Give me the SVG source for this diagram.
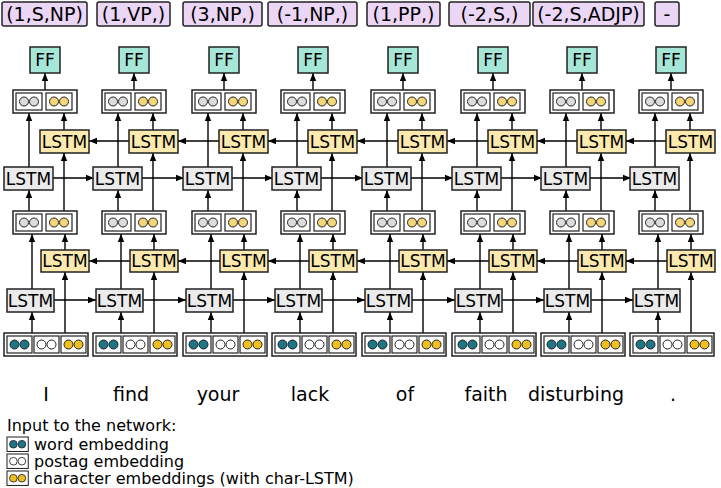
<svg xmlns="http://www.w3.org/2000/svg" xmlns:xlink="http://www.w3.org/1999/xlink" width="721" height="488" viewBox="0 0 721 488">
<style>
text{font-family:"DejaVu Sans",sans-serif;fill:#000}
.lab rect{fill:#ecd6f5;stroke:#222;stroke-width:1.5}
.lab text{font-size:19px;text-anchor:middle}
.ff{fill:#a6e6d6;stroke:#222;stroke-width:1.5}
.fw{fill:#ebebeb;stroke:#222;stroke-width:1.5}
.bw{fill:#fbe9ad;stroke:#222;stroke-width:1.5}
.box{fill:#fff;stroke:#222;stroke-width:1.5}
.sub{fill:#fff;stroke:#222;stroke-width:1.2}
.n text{font-size:17px;text-anchor:middle}
.w{font-size:19px;text-anchor:middle}
.leg{font-size:16px}
.c line{stroke:#000;stroke-width:1.4}
.a{marker-end:url(#ar)}
</style>
<defs>
<marker id="ar" markerUnits="userSpaceOnUse" markerWidth="8" markerHeight="8" viewBox="0 0 8 8" refX="8" refY="4" orient="auto"><path d="M0,0.8 L8,4 L0,7.2z" fill="#000"/></marker>
<g id="pT"><rect class="sub" x="0" y="0" width="25" height="17"/><circle cx="7.5" cy="8.5" r="4.5" fill="#1d7585" stroke="#222"/><circle cx="17.5" cy="8.5" r="4.5" fill="#1d7585" stroke="#222"/></g>
<g id="pW"><rect class="sub" x="0" y="0" width="25" height="17"/><circle cx="7.5" cy="8.5" r="4.5" fill="#fff" stroke="#222"/><circle cx="17.5" cy="8.5" r="4.5" fill="#fff" stroke="#222"/></g>
<g id="pG"><rect class="sub" x="0" y="0" width="26" height="17"/><circle cx="8" cy="8.5" r="4.5" fill="#dcdcdc" stroke="#222"/><circle cx="18" cy="8.5" r="4.5" fill="#dcdcdc" stroke="#222"/></g>
<g id="pY"><rect class="sub" x="0" y="0" width="26" height="17"/><circle cx="8" cy="8.5" r="4.5" fill="#f5d77a" stroke="#222"/><circle cx="18" cy="8.5" r="4.5" fill="#f5d77a" stroke="#222"/></g>
<g id="pYY"><rect class="sub" x="0" y="0" width="25" height="17"/><circle cx="7.5" cy="8.5" r="4.5" fill="#efbf1f" stroke="#222"/><circle cx="17.5" cy="8.5" r="4.5" fill="#efbf1f" stroke="#222"/></g>
<g id="inp"><rect class="box" x="0" y="0" width="84" height="23"/><use xlink:href="#pT" x="3" y="3"/><use xlink:href="#pW" x="30" y="3"/><use xlink:href="#pYY" x="57" y="3"/></g>
<g id="cmb"><rect class="box" x="0" y="0" width="64" height="23"/><use xlink:href="#pG" x="3" y="3"/><use xlink:href="#pY" x="33" y="3"/></g>
</defs>

<g id="labels" class="lab">
<g id="lab1"><rect x="2" y="2" width="85" height="24" rx="2"/><text x="44.5" y="21">(1,S,NP)</text></g>
<g id="lab2"><rect x="97" y="2" width="73" height="24" rx="2"/><text x="133.5" y="21">(1,VP,)</text></g>
<g id="lab3"><rect x="183" y="2" width="79" height="24" rx="2"/><text x="222.5" y="21">(3,NP,)</text></g>
<g id="lab4"><rect x="268" y="2" width="89" height="24" rx="2"/><text x="312.5" y="21">(-1,NP,)</text></g>
<g id="lab5"><rect x="367" y="2" width="73" height="24" rx="2"/><text x="403.5" y="21">(1,PP,)</text></g>
<g id="lab6"><rect x="449" y="2" width="81" height="24" rx="2"/><text x="489.5" y="21">(-2,S,)</text></g>
<g id="lab7"><rect x="533" y="2" width="111" height="24" rx="2"/><text x="588.5" y="21">(-2,S,ADJP)</text></g>
<g id="lab8"><rect x="655" y="2" width="24" height="24" rx="2"/><text x="667" y="21">-</text></g>
</g>

<g id="connectors" class="c">
<g transform="translate(4,0)">
<line class="a" x1="28" y1="333" x2="28" y2="312"/><line class="a" x1="61" y1="333" x2="61" y2="272"/>
<line class="a" x1="28" y1="289" x2="28" y2="234"/><line class="a" x1="61" y1="250" x2="61" y2="234"/>
<line class="a" x1="25" y1="211" x2="25" y2="190"/><line class="a" x1="60" y1="211" x2="60" y2="153"/>
<line class="a" x1="25" y1="167" x2="25" y2="113"/><line class="a" x1="60" y1="130" x2="60" y2="113"/>
<line class="a" x1="41" y1="90" x2="41" y2="73"/>
</g>
<g transform="translate(93,0)">
<line class="a" x1="28" y1="333" x2="28" y2="312"/><line class="a" x1="61" y1="333" x2="61" y2="272"/>
<line class="a" x1="28" y1="289" x2="28" y2="234"/><line class="a" x1="61" y1="250" x2="61" y2="234"/>
<line class="a" x1="25" y1="211" x2="25" y2="190"/><line class="a" x1="60" y1="211" x2="60" y2="153"/>
<line class="a" x1="25" y1="167" x2="25" y2="113"/><line class="a" x1="60" y1="130" x2="60" y2="113"/>
<line class="a" x1="41" y1="90" x2="41" y2="73"/>
</g>
<g transform="translate(183,0)">
<line class="a" x1="28" y1="333" x2="28" y2="312"/><line class="a" x1="61" y1="333" x2="61" y2="272"/>
<line class="a" x1="28" y1="289" x2="28" y2="234"/><line class="a" x1="61" y1="250" x2="61" y2="234"/>
<line class="a" x1="25" y1="211" x2="25" y2="190"/><line class="a" x1="60" y1="211" x2="60" y2="153"/>
<line class="a" x1="25" y1="167" x2="25" y2="113"/><line class="a" x1="60" y1="130" x2="60" y2="113"/>
<line class="a" x1="41" y1="90" x2="41" y2="73"/>
</g>
<g transform="translate(272,0)">
<line class="a" x1="28" y1="333" x2="28" y2="312"/><line class="a" x1="61" y1="333" x2="61" y2="272"/>
<line class="a" x1="28" y1="289" x2="28" y2="234"/><line class="a" x1="61" y1="250" x2="61" y2="234"/>
<line class="a" x1="25" y1="211" x2="25" y2="190"/><line class="a" x1="60" y1="211" x2="60" y2="153"/>
<line class="a" x1="25" y1="167" x2="25" y2="113"/><line class="a" x1="60" y1="130" x2="60" y2="113"/>
<line class="a" x1="41" y1="90" x2="41" y2="73"/>
</g>
<g transform="translate(362,0)">
<line class="a" x1="28" y1="333" x2="28" y2="312"/><line class="a" x1="61" y1="333" x2="61" y2="272"/>
<line class="a" x1="28" y1="289" x2="28" y2="234"/><line class="a" x1="61" y1="250" x2="61" y2="234"/>
<line class="a" x1="25" y1="211" x2="25" y2="190"/><line class="a" x1="60" y1="211" x2="60" y2="153"/>
<line class="a" x1="25" y1="167" x2="25" y2="113"/><line class="a" x1="60" y1="130" x2="60" y2="113"/>
<line class="a" x1="41" y1="90" x2="41" y2="73"/>
</g>
<g transform="translate(452,0)">
<line class="a" x1="28" y1="333" x2="28" y2="312"/><line class="a" x1="61" y1="333" x2="61" y2="272"/>
<line class="a" x1="28" y1="289" x2="28" y2="234"/><line class="a" x1="61" y1="250" x2="61" y2="234"/>
<line class="a" x1="25" y1="211" x2="25" y2="190"/><line class="a" x1="60" y1="211" x2="60" y2="153"/>
<line class="a" x1="25" y1="167" x2="25" y2="113"/><line class="a" x1="60" y1="130" x2="60" y2="113"/>
<line class="a" x1="41" y1="90" x2="41" y2="73"/>
</g>
<g transform="translate(541,0)">
<line class="a" x1="28" y1="333" x2="28" y2="312"/><line class="a" x1="61" y1="333" x2="61" y2="272"/>
<line class="a" x1="28" y1="289" x2="28" y2="234"/><line class="a" x1="61" y1="250" x2="61" y2="234"/>
<line class="a" x1="25" y1="211" x2="25" y2="190"/><line class="a" x1="60" y1="211" x2="60" y2="153"/>
<line class="a" x1="25" y1="167" x2="25" y2="113"/><line class="a" x1="60" y1="130" x2="60" y2="113"/>
<line class="a" x1="41" y1="90" x2="41" y2="73"/>
</g>
<g transform="translate(630,0)">
<line class="a" x1="28" y1="333" x2="28" y2="312"/><line class="a" x1="61" y1="333" x2="61" y2="272"/>
<line class="a" x1="28" y1="289" x2="28" y2="234"/><line class="a" x1="61" y1="250" x2="61" y2="234"/>
<line class="a" x1="25" y1="211" x2="25" y2="190"/><line class="a" x1="60" y1="211" x2="60" y2="153"/>
<line class="a" x1="25" y1="167" x2="25" y2="113"/><line class="a" x1="60" y1="130" x2="60" y2="113"/>
<line class="a" x1="41" y1="90" x2="41" y2="73"/>
</g>
<line class="a" x1="54" y1="300" x2="96" y2="300"/><line class="a" x1="143" y1="300" x2="186" y2="300"/>
<line class="a" x1="233" y1="300" x2="275" y2="300"/><line class="a" x1="322" y1="300" x2="365" y2="300"/>
<line class="a" x1="412" y1="300" x2="455" y2="300"/><line class="a" x1="502" y1="300" x2="544" y2="300"/>
<line class="a" x1="591" y1="300" x2="633" y2="300"/>
<line class="a" x1="53" y1="178" x2="94" y2="178"/><line class="a" x1="142" y1="178" x2="184" y2="178"/>
<line class="a" x1="232" y1="178" x2="273" y2="178"/><line class="a" x1="321" y1="178" x2="363" y2="178"/>
<line class="a" x1="411" y1="178" x2="453" y2="178"/><line class="a" x1="501" y1="178" x2="542" y2="178"/>
<line class="a" x1="590" y1="178" x2="631" y2="178"/>
<line class="a" x1="134" y1="261" x2="89" y2="261"/><line class="a" x1="224" y1="261" x2="178" y2="261"/>
<line class="a" x1="313" y1="261" x2="268" y2="261"/><line class="a" x1="403" y1="261" x2="357" y2="261"/>
<line class="a" x1="493" y1="261" x2="447" y2="261"/><line class="a" x1="582" y1="261" x2="537" y2="261"/>
<line class="a" x1="671" y1="261" x2="626" y2="261"/>
<line class="a" x1="133" y1="141" x2="89" y2="141"/><line class="a" x1="223" y1="141" x2="178" y2="141"/>
<line class="a" x1="312" y1="141" x2="268" y2="141"/><line class="a" x1="402" y1="141" x2="357" y2="141"/>
<line class="a" x1="492" y1="141" x2="447" y2="141"/><line class="a" x1="581" y1="141" x2="537" y2="141"/>
<line class="a" x1="670" y1="141" x2="626" y2="141"/>
</g>

<g id="nodes" class="n">
<g id="col1" transform="translate(4,0)">
<g id="ff1"><rect class="ff" x="26" y="47" width="30" height="26"/><text x="41" y="66">FF</text></g>
<g id="top1"><use xlink:href="#cmb" x="9" y="90"/></g>
<g id="bu1"><rect class="bw" x="36" y="130" width="49" height="23"/><text x="60.5" y="147.5">LSTM</text></g>
<g id="fu1"><rect class="fw" x="0" y="167" width="49" height="23"/><text x="24.5" y="184.5">LSTM</text></g>
<g id="mid1"><use xlink:href="#cmb" x="9" y="211"/></g>
<g id="bl1"><rect class="bw" x="37" y="250" width="48" height="22"/><text x="61" y="267">LSTM</text></g>
<g id="fl1"><rect class="fw" x="3" y="289" width="47" height="23"/><text x="26.5" y="306.5">LSTM</text></g>
<g id="in1"><use xlink:href="#inp" x="0" y="333"/></g>
</g>
<g id="col2" transform="translate(93,0)">
<g id="ff2"><rect class="ff" x="26" y="47" width="30" height="26"/><text x="41" y="66">FF</text></g>
<g id="top2"><use xlink:href="#cmb" x="9" y="90"/></g>
<g id="bu2"><rect class="bw" x="36" y="130" width="49" height="23"/><text x="60.5" y="147.5">LSTM</text></g>
<g id="fu2"><rect class="fw" x="0" y="167" width="49" height="23"/><text x="24.5" y="184.5">LSTM</text></g>
<g id="mid2"><use xlink:href="#cmb" x="9" y="211"/></g>
<g id="bl2"><rect class="bw" x="37" y="250" width="48" height="22"/><text x="61" y="267">LSTM</text></g>
<g id="fl2"><rect class="fw" x="3" y="289" width="47" height="23"/><text x="26.5" y="306.5">LSTM</text></g>
<g id="in2"><use xlink:href="#inp" x="0" y="333"/></g>
</g>
<g id="col3" transform="translate(183,0)">
<g id="ff3"><rect class="ff" x="26" y="47" width="30" height="26"/><text x="41" y="66">FF</text></g>
<g id="top3"><use xlink:href="#cmb" x="9" y="90"/></g>
<g id="bu3"><rect class="bw" x="36" y="130" width="49" height="23"/><text x="60.5" y="147.5">LSTM</text></g>
<g id="fu3"><rect class="fw" x="0" y="167" width="49" height="23"/><text x="24.5" y="184.5">LSTM</text></g>
<g id="mid3"><use xlink:href="#cmb" x="9" y="211"/></g>
<g id="bl3"><rect class="bw" x="37" y="250" width="48" height="22"/><text x="61" y="267">LSTM</text></g>
<g id="fl3"><rect class="fw" x="3" y="289" width="47" height="23"/><text x="26.5" y="306.5">LSTM</text></g>
<g id="in3"><use xlink:href="#inp" x="0" y="333"/></g>
</g>
<g id="col4" transform="translate(272,0)">
<g id="ff4"><rect class="ff" x="26" y="47" width="30" height="26"/><text x="41" y="66">FF</text></g>
<g id="top4"><use xlink:href="#cmb" x="9" y="90"/></g>
<g id="bu4"><rect class="bw" x="36" y="130" width="49" height="23"/><text x="60.5" y="147.5">LSTM</text></g>
<g id="fu4"><rect class="fw" x="0" y="167" width="49" height="23"/><text x="24.5" y="184.5">LSTM</text></g>
<g id="mid4"><use xlink:href="#cmb" x="9" y="211"/></g>
<g id="bl4"><rect class="bw" x="37" y="250" width="48" height="22"/><text x="61" y="267">LSTM</text></g>
<g id="fl4"><rect class="fw" x="3" y="289" width="47" height="23"/><text x="26.5" y="306.5">LSTM</text></g>
<g id="in4"><use xlink:href="#inp" x="0" y="333"/></g>
</g>
<g id="col5" transform="translate(362,0)">
<g id="ff5"><rect class="ff" x="26" y="47" width="30" height="26"/><text x="41" y="66">FF</text></g>
<g id="top5"><use xlink:href="#cmb" x="9" y="90"/></g>
<g id="bu5"><rect class="bw" x="36" y="130" width="49" height="23"/><text x="60.5" y="147.5">LSTM</text></g>
<g id="fu5"><rect class="fw" x="0" y="167" width="49" height="23"/><text x="24.5" y="184.5">LSTM</text></g>
<g id="mid5"><use xlink:href="#cmb" x="9" y="211"/></g>
<g id="bl5"><rect class="bw" x="37" y="250" width="48" height="22"/><text x="61" y="267">LSTM</text></g>
<g id="fl5"><rect class="fw" x="3" y="289" width="47" height="23"/><text x="26.5" y="306.5">LSTM</text></g>
<g id="in5"><use xlink:href="#inp" x="0" y="333"/></g>
</g>
<g id="col6" transform="translate(452,0)">
<g id="ff6"><rect class="ff" x="26" y="47" width="30" height="26"/><text x="41" y="66">FF</text></g>
<g id="top6"><use xlink:href="#cmb" x="9" y="90"/></g>
<g id="bu6"><rect class="bw" x="36" y="130" width="49" height="23"/><text x="60.5" y="147.5">LSTM</text></g>
<g id="fu6"><rect class="fw" x="0" y="167" width="49" height="23"/><text x="24.5" y="184.5">LSTM</text></g>
<g id="mid6"><use xlink:href="#cmb" x="9" y="211"/></g>
<g id="bl6"><rect class="bw" x="37" y="250" width="48" height="22"/><text x="61" y="267">LSTM</text></g>
<g id="fl6"><rect class="fw" x="3" y="289" width="47" height="23"/><text x="26.5" y="306.5">LSTM</text></g>
<g id="in6"><use xlink:href="#inp" x="0" y="333"/></g>
</g>
<g id="col7" transform="translate(541,0)">
<g id="ff7"><rect class="ff" x="26" y="47" width="30" height="26"/><text x="41" y="66">FF</text></g>
<g id="top7"><use xlink:href="#cmb" x="9" y="90"/></g>
<g id="bu7"><rect class="bw" x="36" y="130" width="49" height="23"/><text x="60.5" y="147.5">LSTM</text></g>
<g id="fu7"><rect class="fw" x="0" y="167" width="49" height="23"/><text x="24.5" y="184.5">LSTM</text></g>
<g id="mid7"><use xlink:href="#cmb" x="9" y="211"/></g>
<g id="bl7"><rect class="bw" x="37" y="250" width="48" height="22"/><text x="61" y="267">LSTM</text></g>
<g id="fl7"><rect class="fw" x="3" y="289" width="47" height="23"/><text x="26.5" y="306.5">LSTM</text></g>
<g id="in7"><use xlink:href="#inp" x="0" y="333"/></g>
</g>
<g id="col8" transform="translate(630,0)">
<g id="ff8"><rect class="ff" x="26" y="47" width="30" height="26"/><text x="41" y="66">FF</text></g>
<g id="top8"><use xlink:href="#cmb" x="9" y="90"/></g>
<g id="bu8"><rect class="bw" x="36" y="130" width="49" height="23"/><text x="60.5" y="147.5">LSTM</text></g>
<g id="fu8"><rect class="fw" x="0" y="167" width="49" height="23"/><text x="24.5" y="184.5">LSTM</text></g>
<g id="mid8"><use xlink:href="#cmb" x="9" y="211"/></g>
<g id="bl8"><rect class="bw" x="37" y="250" width="48" height="22"/><text x="61" y="267">LSTM</text></g>
<g id="fl8"><rect class="fw" x="3" y="289" width="47" height="23"/><text x="26.5" y="306.5">LSTM</text></g>
<g id="in8"><use xlink:href="#inp" x="0" y="333"/></g>
</g>
</g>

<g id="words">
<text class="w" x="46" y="401">I</text>
<text class="w" x="131" y="401">find</text>
<text class="w" x="218" y="401">your</text>
<text class="w" x="310" y="401">lack</text>
<text class="w" x="405" y="401">of</text>
<text class="w" x="486" y="401">faith</text>
<text class="w" x="576" y="401">disturbing</text>
<text class="w" x="673" y="401">.</text>
</g>

<g id="legend">
<text class="leg" x="7" y="431">Input to the network:</text>
<g transform="translate(7,437) scale(0.85)"><use xlink:href="#pT"/></g>
<text class="leg" x="34" y="450">word embedding</text>
<g transform="translate(7,454) scale(0.85)"><use xlink:href="#pW"/></g>
<text class="leg" x="34" y="467">postag embedding</text>
<g transform="translate(7,471) scale(0.85)"><use xlink:href="#pYY"/></g>
<text class="leg" x="34" y="484">character embeddings (with char-LSTM)</text>
</g>
</svg>
